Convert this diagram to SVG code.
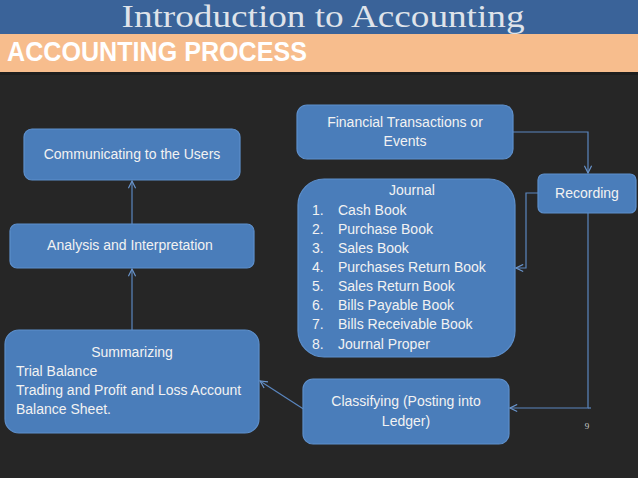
<svg xmlns="http://www.w3.org/2000/svg" width="638" height="478" viewBox="0 0 638 478">
<defs>
<style>
.node rect{fill:#4a7dba;stroke:#5d8fcb;stroke-width:1.2}
.node text{font-family:"Liberation Sans",Arial,sans-serif;font-size:14px;fill:#f2f2f2}
.c{text-anchor:middle}
.conn path{fill:none;stroke:#5a86bf;stroke-width:1.2}
</style>
<marker id="ah" viewBox="0 0 10 10" refX="9" refY="5" markerWidth="9" markerHeight="9" markerUnits="userSpaceOnUse" orient="auto">
<path d="M1,1 L9,5 L1,9" fill="none" stroke="#6a95cc" stroke-width="1.3"/>
</marker>
</defs>
<rect x="0" y="0" width="638" height="478" fill="#262626"/>
<rect x="0" y="0" width="638" height="34" fill="#3a6399"/>
<text x="323" y="27" text-anchor="middle" font-family="Liberation Serif,'DejaVu Serif',serif" font-size="31" fill="#dfe3ea" textLength="403" lengthAdjust="spacingAndGlyphs">Introduction to Accounting</text>
<rect x="0" y="34" width="638" height="38" fill="#f7bd8d"/>
<rect x="0" y="72" width="638" height="3" fill="#1e1e1e"/>
<text x="7" y="61" font-family="Liberation Sans,Arial,sans-serif" font-weight="bold" font-size="27" fill="#ffffff" textLength="300" lengthAdjust="spacingAndGlyphs">ACCOUNTING PROCESS</text>

<g id="connectors" class="conn">
<path d="M513,132 H588 V173" marker-end="url(#ah)"/>
<path d="M538,193 H526 V268 H516" marker-end="url(#ah)"/>
<path d="M588,213 V408 H510" marker-end="url(#ah)"/>
<path d="M588,408 H591"/>
<path d="M305,410 L260,381" marker-end="url(#ah)"/>
<path d="M132,330 V269" marker-end="url(#ah)"/>
<path d="M132,224 V181" marker-end="url(#ah)"/>
</g>

<g id="financial" class="node">
<rect x="297" y="105" width="216" height="54" rx="10"/>
<text x="405" y="127" class="c">Financial Transactions or</text>
<text x="405" y="146" class="c">Events</text>
</g>
<g id="communicating" class="node">
<rect x="24" y="129" width="216" height="51" rx="8"/>
<text x="132" y="159" class="c">Communicating to the Users</text>
</g>
<g id="recording" class="node">
<rect x="538" y="174" width="98" height="39" rx="6"/>
<text x="587" y="198" class="c">Recording</text>
</g>
<g id="journal" class="node">
<rect x="298" y="179" width="217" height="178" rx="26"/>
<text x="412" y="195" class="c">Journal</text>
<text x="312" y="215">1.</text><text x="338" y="215">Cash Book</text>
<text x="312" y="234">2.</text><text x="338" y="234">Purchase Book</text>
<text x="312" y="253">3.</text><text x="338" y="253">Sales Book</text>
<text x="312" y="272">4.</text><text x="338" y="272">Purchases Return Book</text>
<text x="312" y="291">5.</text><text x="338" y="291">Sales Return Book</text>
<text x="312" y="310">6.</text><text x="338" y="310">Bills Payable Book</text>
<text x="312" y="329">7.</text><text x="338" y="329">Bills Receivable Book</text>
<text x="312" y="349">8.</text><text x="338" y="349">Journal Proper</text>
</g>
<g id="analysis" class="node">
<rect x="10" y="224" width="244" height="44" rx="7"/>
<text x="130" y="250" class="c">Analysis and Interpretation</text>
</g>
<g id="summarizing" class="node">
<rect x="5" y="330" width="254" height="103" rx="14"/>
<text x="132" y="357" class="c">Summarizing</text>
<text x="16" y="376">Trial Balance</text>
<text x="16" y="395">Trading and Profit and Loss Account</text>
<text x="16" y="414">Balance Sheet.</text>
</g>
<g id="classifying" class="node">
<rect x="303" y="379" width="206" height="65" rx="10"/>
<text x="406" y="406" class="c">Classifying (Posting into</text>
<text x="406" y="426" class="c">Ledger)</text>
</g>
<text x="587" y="429" text-anchor="middle" font-family="Liberation Serif,serif" font-size="9" fill="#cccccc">9</text>
</svg>
